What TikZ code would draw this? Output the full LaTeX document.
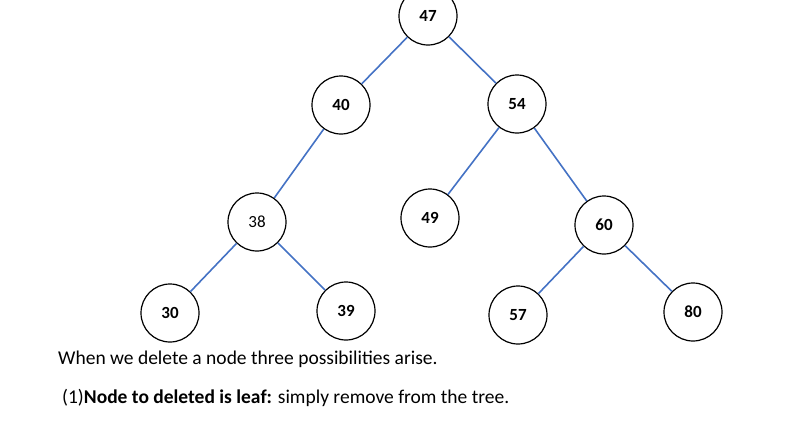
\documentclass[tikz,border=0pt]{standalone}
\usepackage{fontspec}
\setmainfont{Carlito}
\definecolor{edgeblue}{RGB}{68,114,196}
\begin{document}
\begin{tikzpicture}[x=1pt,y=-1pt,
  key/.style={circle,draw,line width=1.2pt,fill=white,minimum size=58pt,inner sep=0pt,font=\fontsize{17}{19}\selectfont\bfseries},
  link/.style={edgeblue,line width=1.6pt}]
  \useasboundingbox (0,0) rectangle (808,424);

  \node[key] (n47) at (428,16) {47};
  \node[key] (n40) at (341,105) {40};
  \node[key] (n54) at (517,104) {54};
  \node[key,font=\fontsize{17}{19}\selectfont] (n38) at (257,222) {38};
  \node[key] (n49) at (430,218) {49};
  \node[key] (n60) at (604,225) {60};
  \node[key] (n30) at (170,313) {30};
  \node[key] (n39) at (346,311) {39};
  \node[key] (n57) at (518,315) {57};
  \node[key] (n80) at (693,312) {80};

  \draw[link] (n47) -- (n40);
  \draw[link] (n47) -- (n54);
  \draw[link] (n40) -- (n38);
  \draw[link] (n54) -- (n49);
  \draw[link] (n54) -- (n60);
  \draw[link] (n38) -- (n30);
  \draw[link] (n38) -- (n39);
  \draw[link] (n60) -- (n57);
  \draw[link] (n60) -- (n80);

  \node[anchor=west,inner sep=0pt,font=\fontsize{19.5}{22}\selectfont] (line1) at (58,359)
    {When we delete a node three possibilities arise.};
  \node[anchor=west,inner sep=0pt,font=\fontsize{19.5}{22}\selectfont] (line2) at (62,398)
    {(1)\textbf{Node to deleted is leaf:} simply remove from the tree.};
\end{tikzpicture}
\end{document}
